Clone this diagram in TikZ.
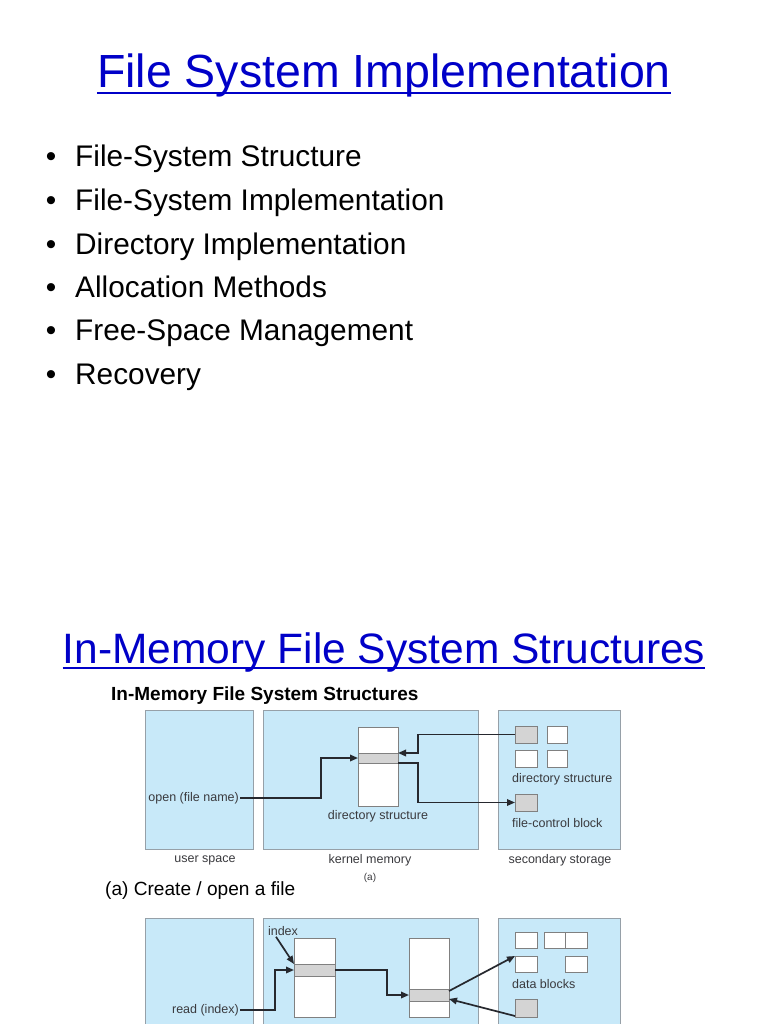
\documentclass[tikz,border=0pt]{standalone}
\usepackage{fontspec}
\setmainfont{Liberation Sans}
\usepackage{xcolor}
\usepackage{tikz}
\usetikzlibrary{arrows.meta,positioning,calc}

\definecolor{slideblue}{RGB}{0,0,200}
\definecolor{panelblue}{RGB}{200,233,249}
\definecolor{edgegray}{RGB}{150,160,168}
\definecolor{slotgray}{RGB}{212,212,212}
\definecolor{inkdark}{RGB}{38,40,46}
\definecolor{labelgray}{RGB}{58,58,62}

\begin{document}
\begin{tikzpicture}[
    x=1pt, y=-1pt,
    heading/.style={
        anchor=base,
        inner sep=0pt,
        text=slideblue,
        font=\fontsize{46.5}{52}\selectfont
    },
    subhead/.style={
        anchor=base west,
        inner sep=0pt,
        font=\bfseries\fontsize{19}{22}\selectfont
    },
    item/.style={
        anchor=base west,
        inner sep=0pt,
        font=\fontsize{29.8}{34}\selectfont
    },
    dot/.style={
        anchor=base,
        inner sep=0pt,
        font=\fontsize{29.8}{34}\selectfont
    },
    panel/.style={
        rectangle,
        draw=edgegray,
        fill=panelblue,
        anchor=north west,
        inner sep=0pt,
        outer sep=0pt
    },
    cell/.style={
        rectangle,
        draw=gray,
        line width=0.8pt,
        fill=white,
        anchor=north west,
        inner sep=0pt,
        outer sep=0pt
    },
    slot/.style={
        cell,
        fill=slotgray
    },
    lbl/.style={
        text=labelgray,
        inner sep=1pt,
        font=\fontsize{12.5}{14}\selectfont
    },
    arrow/.style={
        draw=inkdark,
        line width=1.7pt,
        -{Triangle[length=8pt,width=6.5pt]}
    }
]
\path[use as bounding box] (0,0) rectangle (768,1024);
\clip (0,0) rectangle (768,1024);
\fill[white] (0,0) rectangle (768,1024);

% first slide
\node[heading] (title1) at (384,88) {File System Implementation};
\draw[slideblue, line width=2.6pt] ([yshift=-5pt]title1.base west) -- ([yshift=-5pt]title1.base east);

\node[dot] (d1) at (51,167) {•};
\node[item] (i1) at (75,167) {File-System Structure};
\node[dot] (d2) at (51,210.5) {•};
\node[item] (i2) at (75,210.5) {File-System Implementation};
\node[dot] (d3) at (51,254) {•};
\node[item] (i3) at (75,254) {Directory Implementation};
\node[dot] (d4) at (51,297) {•};
\node[item] (i4) at (75,297) {Allocation Methods};
\node[dot] (d5) at (51,340.5) {•};
\node[item] (i5) at (75,340.5) {Free-Space Management};
\node[dot] (d6) at (51,384) {•};
\node[item] (i6) at (75,384) {Recovery};

% second slide
\node[heading, font=\fontsize{42.5}{48}\selectfont] (title2) at (384,663) {In-Memory File System Structures};
\draw[slideblue, line width=2.4pt] ([yshift=-5pt]title2.base west) -- ([yshift=-5pt]title2.base east);

\node[subhead] (figtitle) at (111,700) {In-Memory File System Structures};

% (a) create / open
\node[panel, minimum width=108pt, minimum height=139pt] (userA) at (145,710) {};
\node[panel, minimum width=215pt, minimum height=139pt] (kernelA) at (263,710) {};
\node[panel, minimum width=122pt, minimum height=139pt] (storeA) at (498,710) {};

\node[cell, minimum width=40pt, minimum height=79pt] (dirA) at (358,727) {};
\node[slot, minimum width=40pt, minimum height=10pt] (dirrowA) at (358,753) {};

\node[slot, minimum width=22pt, minimum height=17pt] (blkA1) at (515,726) {};
\node[cell, minimum width=20pt, minimum height=17pt] (blkA2) at (547,726) {};
\node[cell, minimum width=22pt, minimum height=17pt] (blkA3) at (515,750) {};
\node[cell, minimum width=20pt, minimum height=17pt] (blkA4) at (547,750) {};
\node[slot, minimum width=22pt, minimum height=17pt] (fcbA) at (515,794) {};

\node[lbl, anchor=east] (openA) at (240,798) {open (file name)};
\node[lbl] (dirlblA) at (378,816) {directory structure};
\node[lbl, anchor=west] (sdirlblA) at (511,779) {directory structure};
\node[lbl, anchor=west] (fcblblA) at (511,823) {file-control block};

\node[lbl] (userlbl) at (205,860) {user space};
\node[lbl] (kernlbl) at (370,860) {kernel memory};
\node[lbl] (storlbl) at (560,860) {secondary storage};
\node[lbl, font=\fontsize{10}{12}\selectfont] (alabel) at (370,878) {(a)};

\draw[arrow] (openA.east) -- ++(81,0) |- (dirrowA.west);
\draw[arrow] (blkA1.west) -| ([xshift=20pt]dirrowA.north east) -- (dirrowA.north east);
\draw[arrow] (dirrowA.south east) -- ++(20,0) |- (fcbA.west);

\node[subhead, font=\fontsize{19.1}{22}\selectfont] (caption) at (105,895) {(a) Create / open a file};

% (b) read
\node[panel, minimum width=108pt, minimum height=130pt] (userB) at (145,918) {};
\node[panel, minimum width=215pt, minimum height=130pt] (kernelB) at (263,918) {};
\node[panel, minimum width=122pt, minimum height=130pt] (storeB) at (498,918) {};

\node[cell, minimum width=41pt, minimum height=79pt] (tab1B) at (294,938) {};
\node[slot, minimum width=41pt, minimum height=12pt] (row1B) at (294,964) {};
\node[cell, minimum width=40pt, minimum height=79pt] (tab2B) at (409,938) {};
\node[slot, minimum width=40pt, minimum height=12pt] (row2B) at (409,989) {};

\node[cell, minimum width=22pt, minimum height=16pt] (dbA) at (515,932) {};
\node[cell, minimum width=21pt, minimum height=16pt] (dbB) at (544,932) {};
\node[cell, minimum width=22pt, minimum height=16pt] (dbC) at (565,932) {};
\node[cell, minimum width=22pt, minimum height=16pt] (dbD) at (515,956) {};
\node[cell, minimum width=22pt, minimum height=16pt] (dbE) at (565,956) {};
\node[slot, minimum width=22pt, minimum height=18pt] (fcbB) at (515,999) {};

\node[lbl] (idxB) at (283,931) {index};
\node[lbl, anchor=east] (readB) at (240,1010) {read (index)};
\node[lbl, anchor=west] (dblbl) at (511,984) {data blocks};

\draw[arrow] ([xshift=-7pt]idxB.south) -- (row1B.north west);
\draw[arrow] (readB.east) -- ++(35,0) |- (row1B.west);
\draw[arrow] (row1B.east) -- ++(52,0) |- (row2B.west);
\draw[arrow] ([yshift=-2pt]row2B.north east) -- (dbD.north west);
\draw[arrow] ([yshift=1pt]fcbB.south west) -- ([yshift=2pt]row2B.south east);

\end{tikzpicture}
\end{document}
